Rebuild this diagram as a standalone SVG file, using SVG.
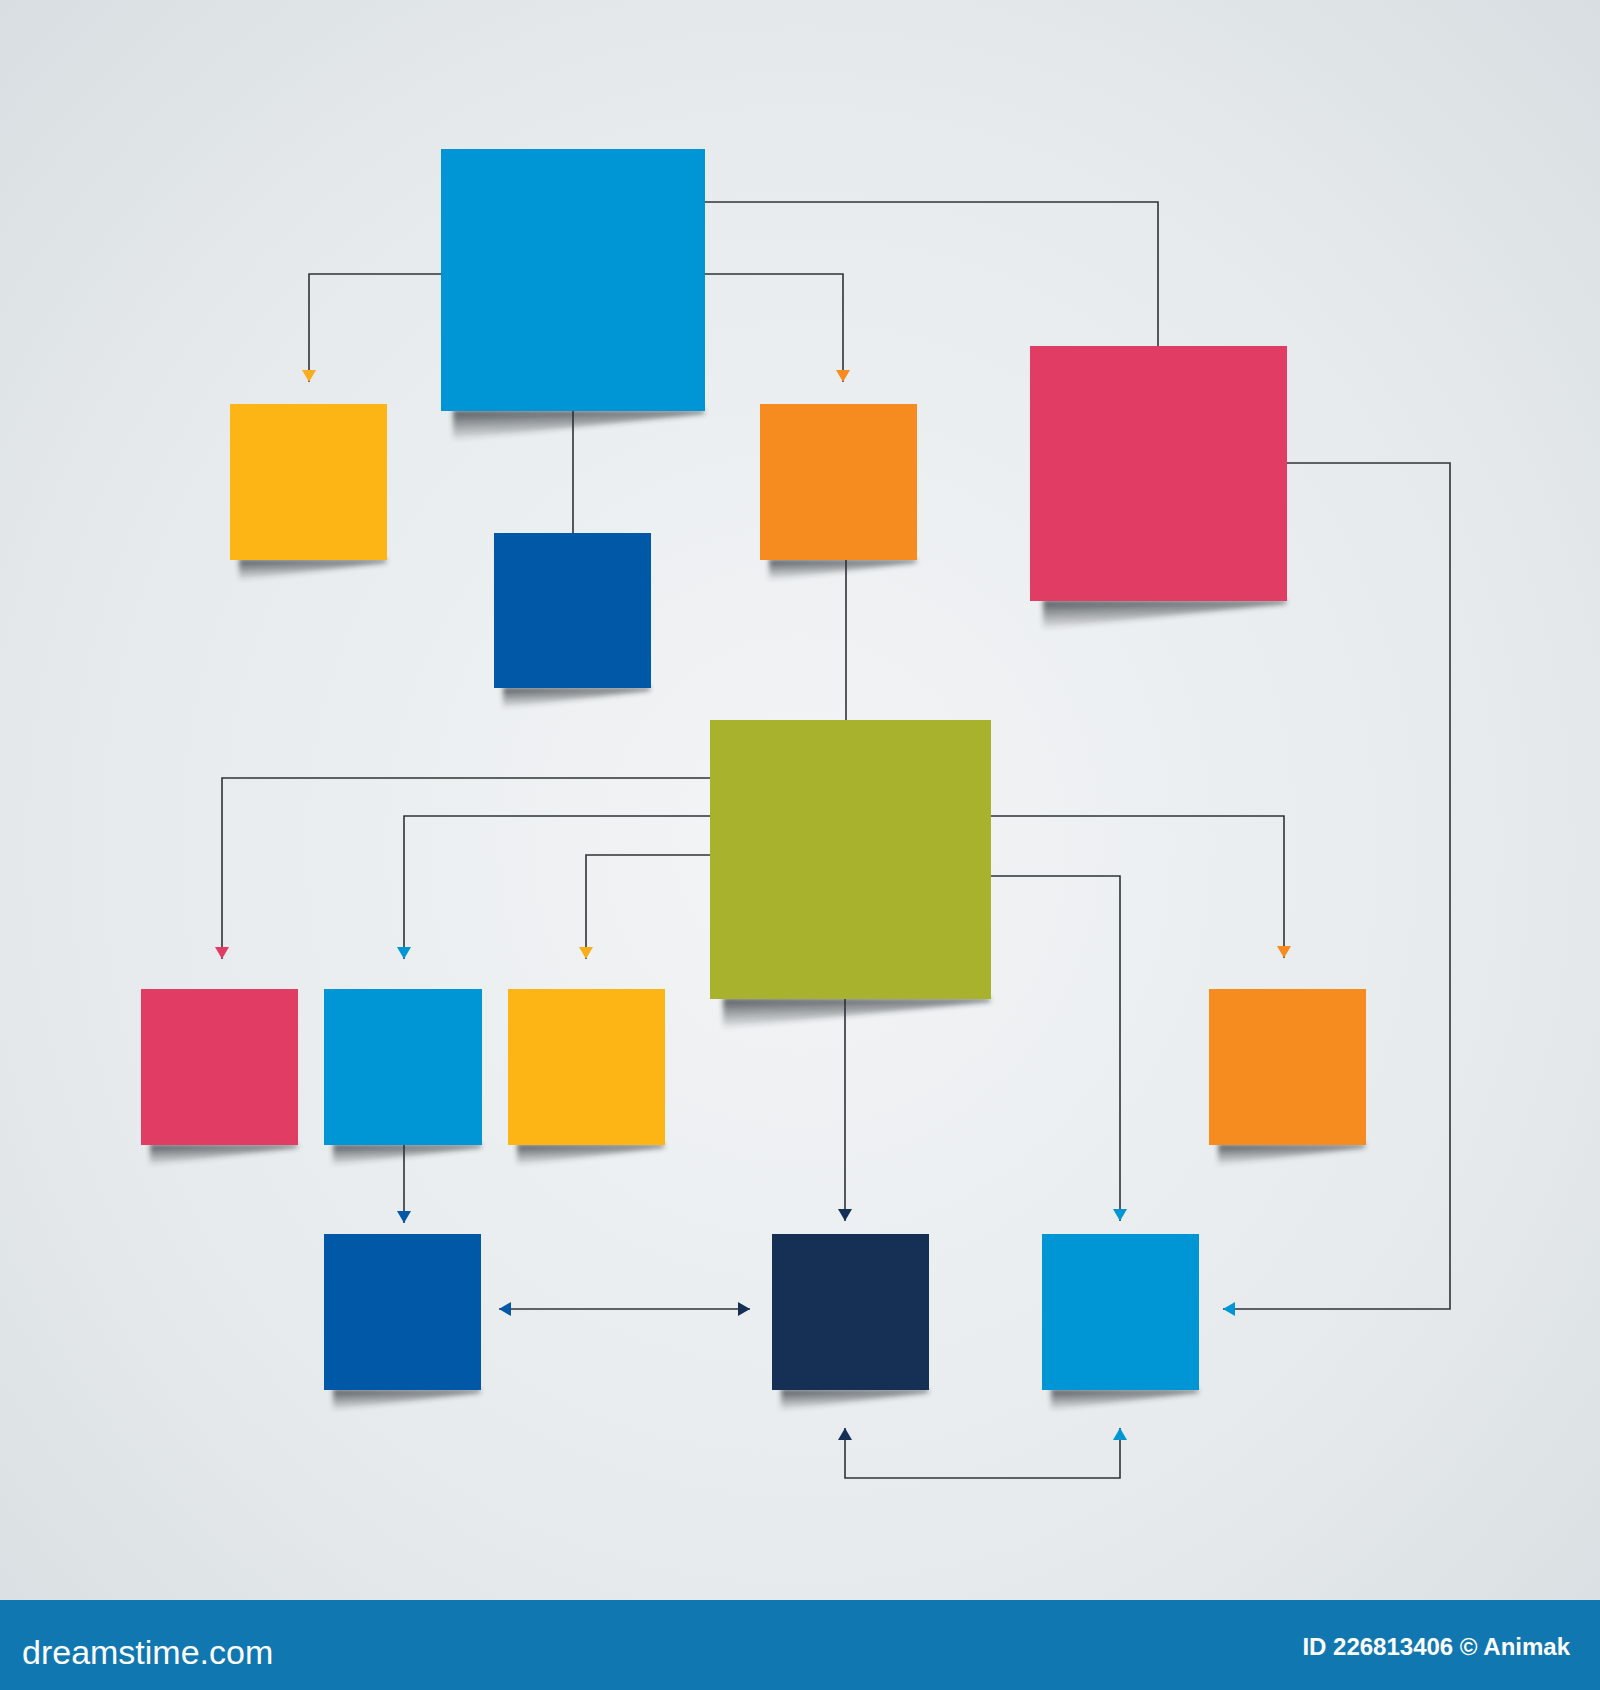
<svg xmlns="http://www.w3.org/2000/svg" width="1600" height="1690" viewBox="0 0 1600 1690">
<style>
.ln{fill:none;stroke:#2e3338;stroke-width:1.6}
.sh{fill:url(#shg);filter:url(#blur)}
.ft{font-family:"Liberation Sans",Arial,sans-serif;fill:#ffffff}
</style>
<defs>
<radialGradient id="bg" cx="0.5" cy="0.5" r="0.75">
<stop offset="0" stop-color="#f3f5f6"/>
<stop offset="0.6" stop-color="#e6eaec"/>
<stop offset="1" stop-color="#d6dce0"/>
</radialGradient>
<linearGradient id="shg" x1="0" y1="0" x2="0.25" y2="1">
<stop offset="0" stop-color="#2a3036" stop-opacity="0.8"/>
<stop offset="0.55" stop-color="#2a3036" stop-opacity="0.35"/>
<stop offset="1" stop-color="#2a3036" stop-opacity="0"/>
</linearGradient>
<filter id="blur" x="-20%" y="-100%" width="140%" height="300%"><feGaussianBlur stdDeviation="2.5"/></filter>
<marker id="aYel" markerUnits="userSpaceOnUse" markerWidth="14" markerHeight="14" viewBox="0 0 14 14" refX="12" refY="7" orient="auto-start-reverse"><path d="M0,0 L12,7 L0,14 z" fill="#f9ad1a"/></marker>
<marker id="aOra" markerUnits="userSpaceOnUse" markerWidth="14" markerHeight="14" viewBox="0 0 14 14" refX="12" refY="7" orient="auto-start-reverse"><path d="M0,0 L12,7 L0,14 z" fill="#f68b1f"/></marker>
<marker id="aPnk" markerUnits="userSpaceOnUse" markerWidth="14" markerHeight="14" viewBox="0 0 14 14" refX="12" refY="7" orient="auto-start-reverse"><path d="M0,0 L12,7 L0,14 z" fill="#e03c64"/></marker>
<marker id="aBlu" markerUnits="userSpaceOnUse" markerWidth="14" markerHeight="14" viewBox="0 0 14 14" refX="12" refY="7" orient="auto-start-reverse"><path d="M0,0 L12,7 L0,14 z" fill="#0096d6"/></marker>
<marker id="aDbl" markerUnits="userSpaceOnUse" markerWidth="14" markerHeight="14" viewBox="0 0 14 14" refX="12" refY="7" orient="auto-start-reverse"><path d="M0,0 L12,7 L0,14 z" fill="#0058a6"/></marker>
<marker id="aNav" markerUnits="userSpaceOnUse" markerWidth="14" markerHeight="14" viewBox="0 0 14 14" refX="12" refY="7" orient="auto-start-reverse"><path d="M0,0 L12,7 L0,14 z" fill="#152f55"/></marker>
</defs>
<rect x="0" y="0" width="1600" height="1690" fill="url(#bg)"/>

<g id="connectors">
<path class="ln" d="M441,274 H309 V382" marker-end="url(#aYel)"/>
<path class="ln" d="M705,274 H843 V382" marker-end="url(#aOra)"/>
<path class="ln" d="M573,411 V533"/>
<path class="ln" d="M705,202 H1158 V346"/>
<path class="ln" d="M846,560 V720"/>
<path class="ln" d="M1287,463 H1450 V1309 H1223" marker-end="url(#aBlu)"/>
<path class="ln" d="M710,778 H222 V959" marker-end="url(#aPnk)"/>
<path class="ln" d="M710,816 H404 V959" marker-end="url(#aBlu)"/>
<path class="ln" d="M710,855 H586 V959" marker-end="url(#aYel)"/>
<path class="ln" d="M991,816 H1284 V958" marker-end="url(#aOra)"/>
<path class="ln" d="M991,876 H1120 V1221" marker-end="url(#aBlu)"/>
<path class="ln" d="M845,999 V1221" marker-end="url(#aNav)"/>
<path class="ln" d="M404,1145 V1223" marker-end="url(#aDbl)"/>
<path class="ln" d="M499,1309 H750" marker-start="url(#aDbl)" marker-end="url(#aNav)"/>
<path class="ln" d="M845,1428 V1478 H1120 V1428" marker-start="url(#aNav)" marker-end="url(#aBlu)"/>
</g>

<g id="n1"><polygon class="sh" points="453,410 704,410 704,414 453,440"/><rect x="441" y="149" width="264" height="262" fill="#0096d6"/></g>
<g id="n2"><polygon class="sh" points="239,559 386,559 386,563 239,580"/><rect x="230" y="404" width="157" height="156" fill="#fdb515"/></g>
<g id="n3"><polygon class="sh" points="503,687 650,687 650,691 503,708"/><rect x="494" y="533" width="157" height="155" fill="#0058a6"/></g>
<g id="n4"><polygon class="sh" points="769,559 916,559 916,563 769,580"/><rect x="760" y="404" width="157" height="156" fill="#f68b1f"/></g>
<g id="n5"><polygon class="sh" points="1043,600 1286,600 1286,604 1043,629"/><rect x="1030" y="346" width="257" height="255" fill="#e03c64"/></g>
<g id="n6"><polygon class="sh" points="723,998 990,998 990,1002 723,1028"/><rect x="710" y="720" width="281" height="279" fill="#a8b22c"/></g>
<g id="n7"><polygon class="sh" points="150,1144 297,1144 297,1148 150,1165"/><rect x="141" y="989" width="157" height="156" fill="#e03c64"/></g>
<g id="n8"><polygon class="sh" points="333,1144 481,1144 481,1148 333,1165"/><rect x="324" y="989" width="158" height="156" fill="#0096d6"/></g>
<g id="n9"><polygon class="sh" points="517,1144 664,1144 664,1148 517,1165"/><rect x="508" y="989" width="157" height="156" fill="#fdb515"/></g>
<g id="n10"><polygon class="sh" points="1218,1144 1365,1144 1365,1148 1218,1165"/><rect x="1209" y="989" width="157" height="156" fill="#f68b1f"/></g>
<g id="n11"><polygon class="sh" points="333,1389 480,1389 480,1393 333,1410"/><rect x="324" y="1234" width="157" height="156" fill="#0058a6"/></g>
<g id="n12"><polygon class="sh" points="781,1389 928,1389 928,1393 781,1410"/><rect x="772" y="1234" width="157" height="156" fill="#152f55"/></g>
<g id="n13"><polygon class="sh" points="1051,1389 1198,1389 1198,1393 1051,1410"/><rect x="1042" y="1234" width="157" height="156" fill="#0096d6"/></g>

<g id="footer">
<rect x="0" y="1600" width="1600" height="90" fill="#1177b0"/>
<text class="ft" x="22" y="1664" font-size="34">dreamstime.com</text>
<text class="ft" x="1570" y="1655" font-size="24" font-weight="bold" text-anchor="end">ID 226813406 © Animak</text>
</g>
</svg>
